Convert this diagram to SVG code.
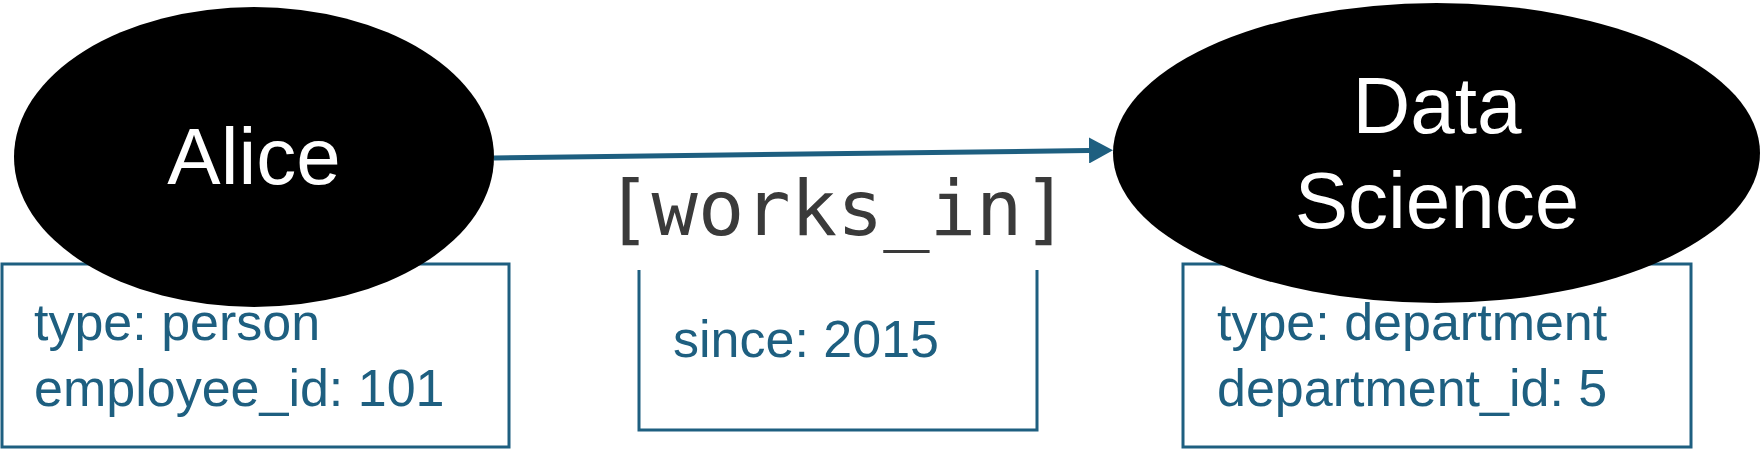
<svg xmlns="http://www.w3.org/2000/svg" width="1762" height="455" viewBox="0 0 1762 455">
<style>
.node-shape{fill:#000000;stroke:none}
.node-label{font-family:"Liberation Sans",Arial,sans-serif;font-size:80px;fill:#ffffff;text-anchor:middle}
.prop-box{fill:#ffffff;stroke:#1E5F80;stroke-width:3}
.prop-open{fill:none;stroke:#1E5F80;stroke-width:3}
.prop-text{font-family:"Liberation Sans",Arial,sans-serif;font-size:52px;fill:#1E5F80}
.edge{stroke:#1E5F80;stroke-width:5;fill:none}
.edge-label{font-family:"DejaVu Sans Mono","Liberation Mono",monospace;font-size:77px;fill:#3a3a3a;text-anchor:middle}
</style>
<defs>
<marker id="arrow" markerUnits="userSpaceOnUse" viewBox="0 0 24 26" refX="0" refY="13" markerWidth="24" markerHeight="26" orient="auto">
<path d="M0,0 L24,13 L0,26 Z" fill="#1E5F80"/>
</marker>
</defs>
<rect width="1762" height="455" fill="#ffffff"/>
<g id="node-alice">
<rect class="prop-box" x="2" y="264" width="507" height="183"/>
<ellipse class="node-shape" cx="254" cy="157" rx="240" ry="150"/>
<text class="node-label" x="254" y="184">Alice</text>
<text class="prop-text" x="34" y="340">type: person</text>
<text class="prop-text" x="34" y="406">employee_id: 101</text>
</g>
<g id="node-data-science">
<rect class="prop-box" x="1183" y="264" width="508" height="183"/>
<ellipse class="node-shape" cx="1436.5" cy="153" rx="323.5" ry="150"/>
<text class="node-label" x="1437" y="133">Data</text>
<text class="node-label" x="1437" y="228">Science</text>
<text class="prop-text" x="1217" y="340">type: department</text>
<text class="prop-text" x="1217" y="406">department_id: 5</text>
</g>
<g id="connectors">
<line class="edge" x1="494" y1="158" x2="1089" y2="150.5" marker-end="url(#arrow)"/>
</g>
<g id="edge-works_in">
<text class="edge-label" x="837" y="235">[works_in]</text>
<path class="prop-open" d="M639,270 V430 H1037 V270"/>
<text class="prop-text" x="673" y="357">since: 2015</text>
</g>
</svg>
